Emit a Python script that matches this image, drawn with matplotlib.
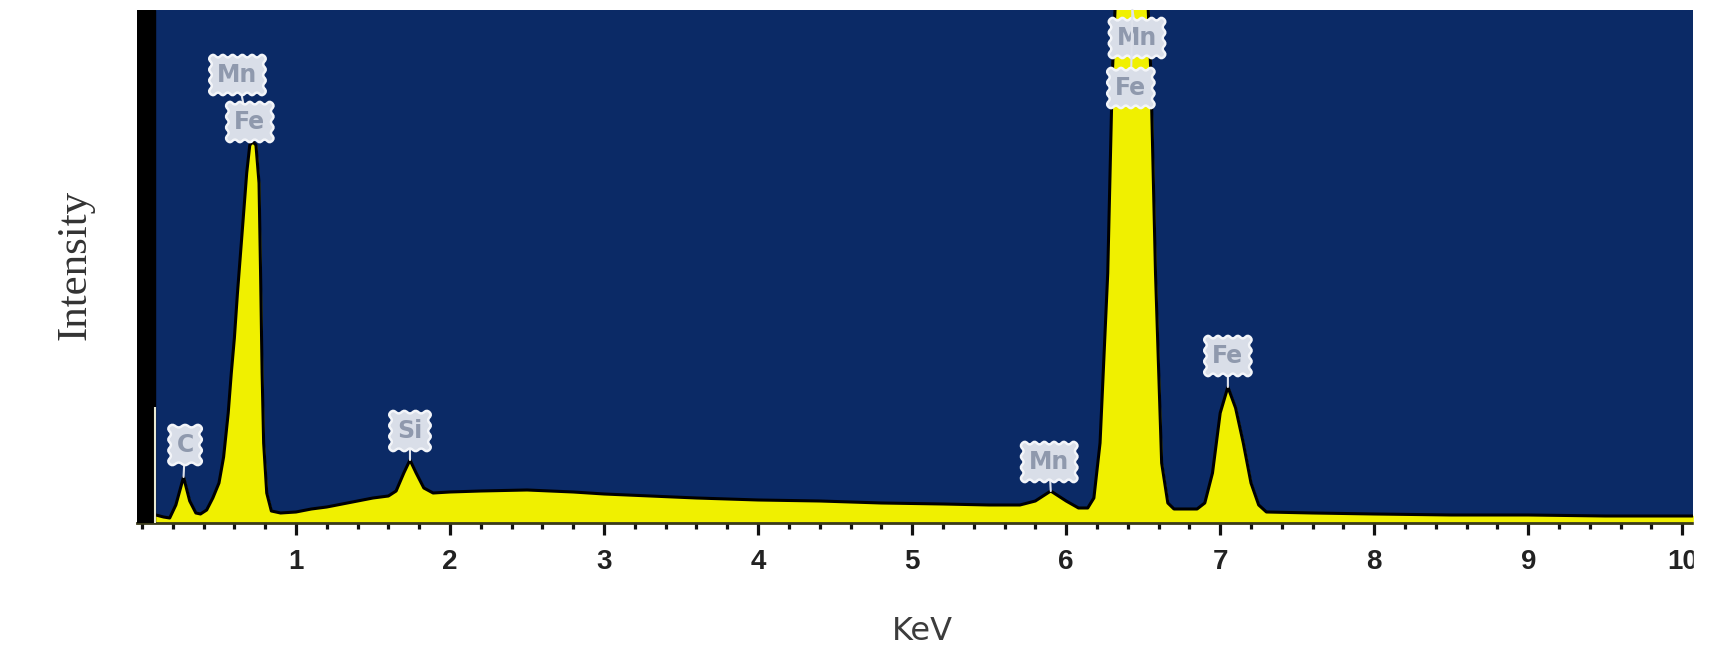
import numpy as np
import matplotlib
matplotlib.use("Agg")
import matplotlib.pyplot as plt
from matplotlib.patches import Rectangle
from matplotlib.ticker import MultipleLocator, FixedLocator

# EDS spectrum (energy in keV, intensity in arbitrary units)
energy_kev = [
    0.09, 0.14, 0.18, 0.22, 0.27, 0.31, 0.35, 0.38, 0.42, 0.46, 0.50, 0.53,
    0.56, 0.58, 0.60, 0.62, 0.65, 0.68, 0.70, 0.72, 0.74, 0.76, 0.77, 0.78,
    0.79, 0.81, 0.84, 0.90, 1.00, 1.10, 1.20, 1.30, 1.40, 1.50, 1.60, 1.65,
    1.70, 1.74, 1.78, 1.83, 1.89, 2.00, 2.20, 2.50, 2.80, 3.00, 3.30, 3.60,
    4.00, 4.40, 4.80, 5.20, 5.50, 5.70, 5.80, 5.90, 6.00, 6.08, 6.14, 6.18,
    6.22, 6.27, 6.30, 6.33, 6.52, 6.55, 6.58, 6.62, 6.66, 6.70, 6.85, 6.90,
    6.95, 7.00, 7.05, 7.10, 7.15, 7.20, 7.25, 7.30, 7.60, 8.00, 8.50, 9.00,
    9.50, 10.07,
]
intensity = [
    8, 6, 5, 18, 46, 22, 10, 9, 13, 25, 40, 66,
    110, 150, 185, 230, 290, 350, 378, 381, 378, 340, 250, 150,
    80, 30, 12, 10, 11, 14, 16, 19, 22, 25, 27, 32,
    50, 63, 50, 35, 30, 31, 32, 33, 31, 29, 27, 25,
    23, 22, 20, 19, 18, 18, 22, 32, 22, 15, 15, 25,
    80, 250, 450, 560, 560, 450, 250, 60, 20, 14, 14, 20,
    50, 110, 136, 115, 80, 40, 18, 11, 10, 9, 8, 8,
    7, 7,
]

# zero-energy noise peak
noise_kev = 0.085
noise_height = 116

# element markers
label_names = ["C", "Mn", "Fe", "Si", "Mn", "Mn", "Fe", "Fe"]
label_peak_kev = [0.27, 0.71, 0.71, 1.74, 5.90, 6.43, 6.43, 7.05]
label_peak_height = [46, 381, 381, 63, 32, 513, 513, 136]
label_kev = [0.28, 0.62, 0.70, 1.74, 5.89, 6.46, 6.42, 7.05]
label_height = [78, 448, 401, 92, 61, 485, 435, 167]

major_ticks = [1, 2, 3, 4, 5, 6, 7, 8, 9, 10]

BLUE = "#0b2a66"
YELLOW = "#f0f000"

fig = plt.figure(figsize=(17.22, 6.5), dpi=100)
ax = fig.add_axes([0.0794, 0.1954, 0.9038, 0.7892])
ax.set_facecolor(BLUE)

ax.fill_between(energy_kev, intensity, -10, color=YELLOW, zorder=2)
ax.plot(energy_kev, intensity, color="black", lw=2.2, zorder=3)
ax.axvspan(-0.05, noise_kev, color="black", zorder=4)
ax.vlines(noise_kev, 0, noise_height, color="#e8e8d0", lw=1.5, zorder=5)

for name, pk, ph, lk, lh in zip(label_names, label_peak_kev, label_peak_height,
                                label_kev, label_height):
    ax.annotate(
        name, xy=(pk, ph), xytext=(lk, lh),
        ha="center", va="center", fontsize=17, fontweight="bold",
        color="#8f99ad", zorder=6,
        bbox=dict(boxstyle="roundtooth,pad=0.4,tooth_size=0.22",
                  fc="#d9dee8", ec="#f3f5f9", lw=1.8),
        arrowprops=dict(arrowstyle="-", color="#dfe3ec", lw=1.5,
                        shrinkA=0, shrinkB=0),
    )

ax.set_xlim(-0.034, 10.07)
ax.set_ylim(0, 513)
ax.set_yticks([])

ax.xaxis.set_major_locator(FixedLocator(major_ticks))
ax.xaxis.set_minor_locator(MultipleLocator(0.2))
ax.set_xticklabels([str(t) for t in major_ticks], fontfamily="Liberation Sans",
                   fontweight="bold", fontsize=20, color="#222222")
ax.tick_params(axis="x", which="major", direction="out", length=8.5, width=2.3,
               color="#111111", pad=10)
ax.tick_params(axis="x", which="minor", direction="out", length=4, width=2.3,
               color="#111111")

for side in ["left", "right", "top"]:
    ax.spines[side].set_visible(False)
ax.spines["bottom"].set_color("#3a3a1a")
ax.spines["bottom"].set_linewidth(2)

fig.text(75 / 1722, 1 - 265 / 650, "Intensity", rotation=90, ha="center",
         va="center", fontfamily="Liberation Serif", fontsize=31, color="#333333")
fig.text(922 / 1722, 1 - 632 / 650, "KeV", ha="center", va="center",
         fontfamily="DejaVu Sans", fontsize=23, color="#3c3c3c")

# the picture is cropped just after the plot's right edge
fig.patches.append(Rectangle((1694 / 1722, 0), 1, 1, transform=fig.transFigure,
                             color="white", zorder=10))

fig.savefig("out.png", dpi=100)
